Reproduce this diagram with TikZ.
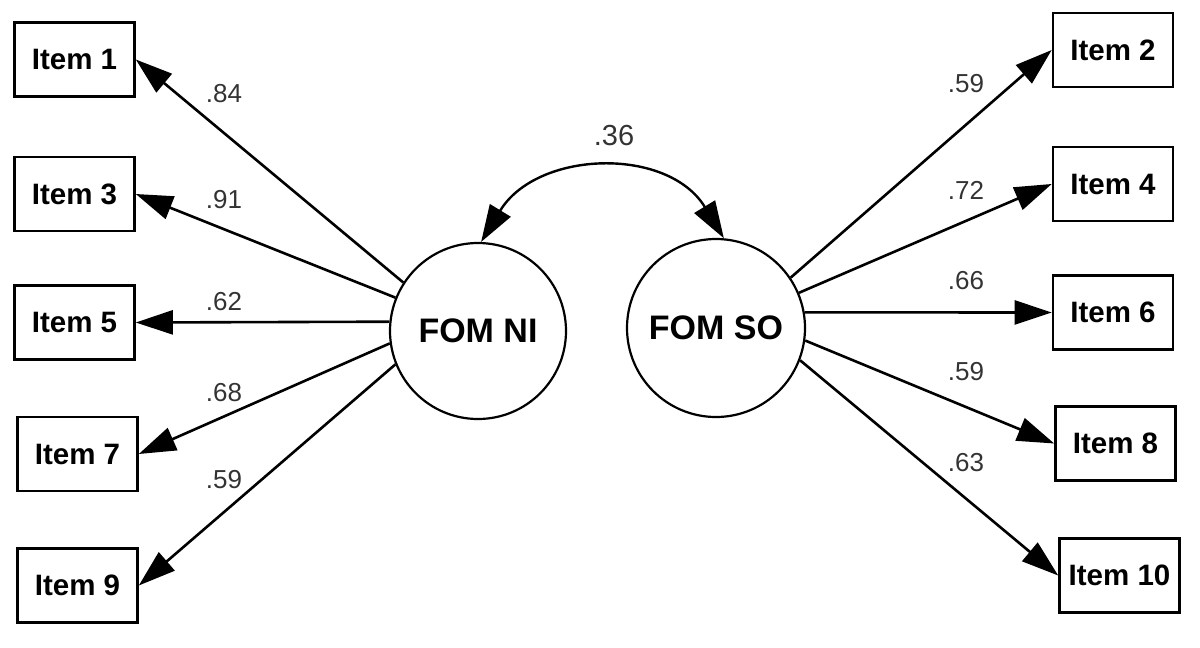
\documentclass[tikz,border=0pt]{standalone}
\usepackage{fontspec}
\setmainfont{Liberation Sans}
\usetikzlibrary{arrows.meta}
\definecolor{numgray}{HTML}{333333}
\tikzset{
  itembox/.style={draw, line width=2.6pt, minimum width=120pt, minimum height=74pt, inner sep=0pt,
    font=\fontsize{29.5}{31}\selectfont\bfseries},
  latent/.style={draw, circle, line width=2.2pt, minimum size=176pt, inner sep=0pt,
    font=\fontsize{34}{36}\selectfont\bfseries},
  load/.style={-{Triangle[length=37pt,width=24pt]}, line width=2.6pt},
  corr/.style={{Triangle[length=37pt,width=24pt]}-{Triangle[length=37pt,width=24pt]}, line width=2.4pt},
  coef/.style={font=\fontsize{26}{28}\selectfont, text=numgray, inner sep=0pt}
}
\begin{document}
\begin{tikzpicture}[x=1pt,y=-1pt]
\useasboundingbox (0,0) rectangle (1200,648);
% latent variables
\node[latent] (ni) at (478,331) {FOM NI};
\node[latent, minimum size=178pt] (so) at (716,328) {FOM SO};
% left items
\node[itembox] (i1) at (74.5,59.5) {Item 1};
\node[itembox] (i3) at (74.5,194) {Item 3};
\node[itembox] (i5) at (74.5,322.5) {Item 5};
\node[itembox] (i7) at (77.5,454) {Item 7};
\node[itembox] (i9) at (77.5,585.5) {Item 9};
% right items
\node[itembox] (i2) at (1113,50) {Item 2};
\node[itembox] (i4) at (1113,184) {Item 4};
\node[itembox] (i6) at (1113,312.5) {Item 6};
\node[itembox] (i8) at (1115.5,443.5) {Item 8};
\node[itembox] (i10) at (1119.5,575.5) {Item 10};
% loadings
\draw[load] (ni.147) -- (i1.east);
\draw[load] (ni.158) -- (i3.east);
\draw[load] (ni.174) -- (i5.east);
\draw[load] (ni.188) -- (i7.east);
\draw[load] (ni.202) -- (i9.east);
\draw[load] (so.34) -- (i2.west);
\draw[load] (so.23) -- (i4.west);
\draw[load] (so.10) -- (i6.west);
\draw[load] (so.352) -- (i8.west);
\draw[load] (so.339) -- (i10.west);
% correlation
\draw[corr] (ni.88) .. controls +(56,-92) and +(-56,-92) .. (so.85);
% coefficients
\node[coef] (c36) at (614,136) {\fontsize{29}{31}\selectfont .36};
\node[coef] (c84) at (224,94) {.84};
\node[coef] (c91) at (224,200) {.91};
\node[coef] (c62) at (224,302) {.62};
\node[coef] (c68) at (224,393) {.68};
\node[coef] (c59a) at (224,480) {.59};
\node[coef] (c59b) at (966,84) {.59};
\node[coef] (c72) at (966,190) {.72};
\node[coef] (c66) at (966,281) {.66};
\node[coef] (c59c) at (966,372) {.59};
\node[coef] (c63) at (966,463) {.63};
\end{tikzpicture}
\end{document}
